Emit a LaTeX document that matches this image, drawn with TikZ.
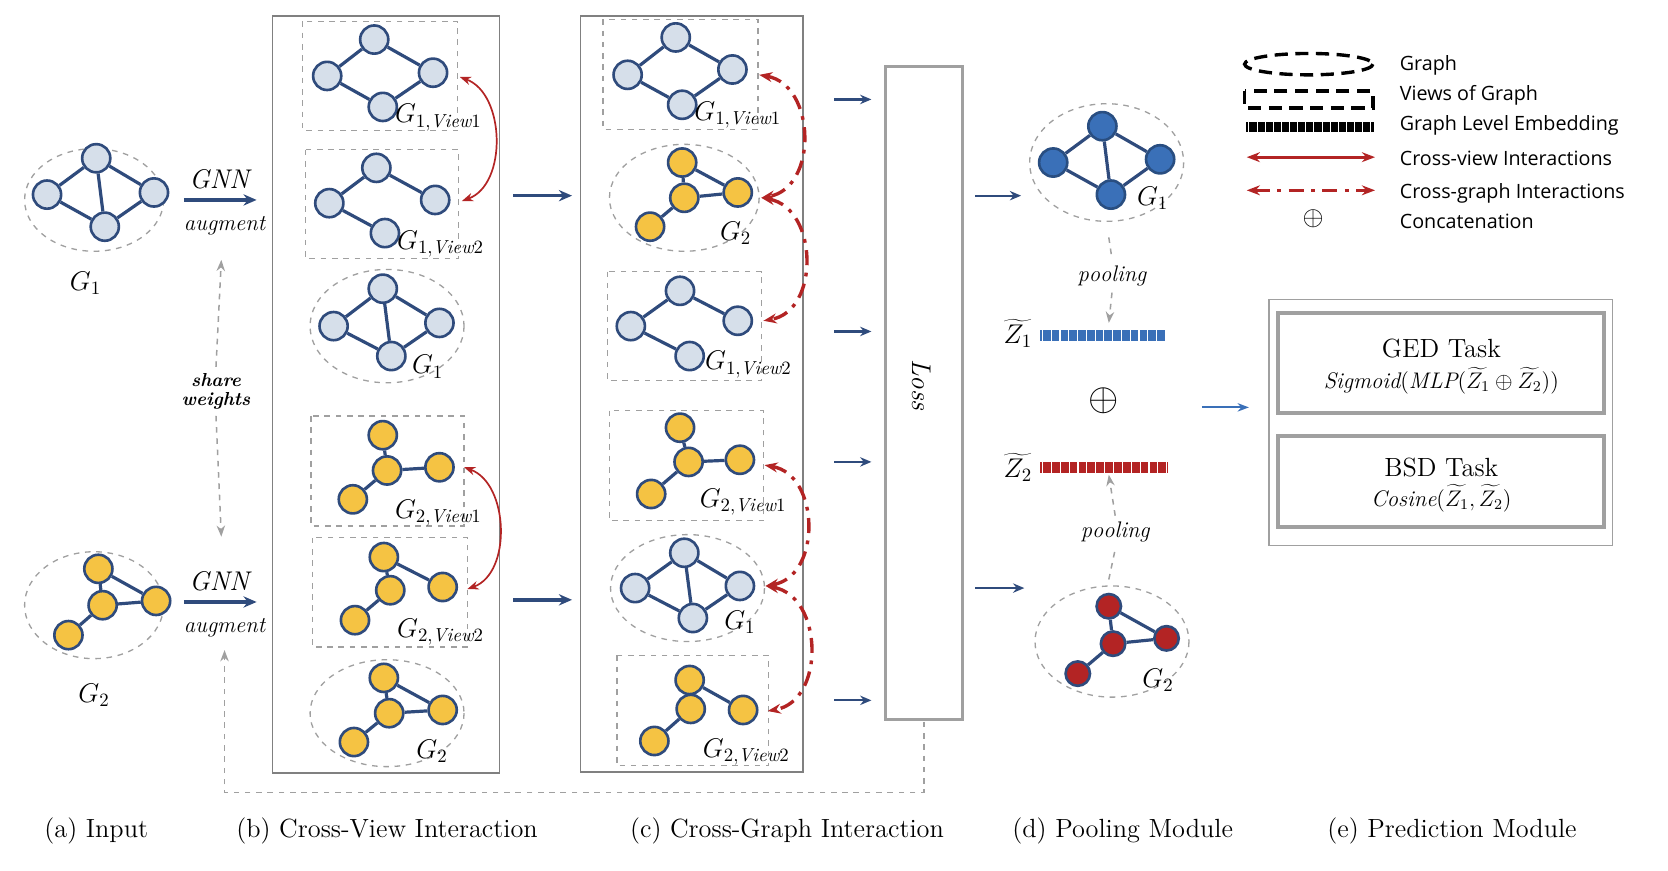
\documentclass[tikz,border=0pt]{standalone}
\usepackage{fontspec}
\newfontfamily\legf{Open Sans}
\usetikzlibrary{arrows.meta}
\definecolor{nb}{HTML}{2F4B7C}
\definecolor{lb}{HTML}{D6DFEA}
\definecolor{yl}{HTML}{F5C343}
\definecolor{mb}{HTML}{3A70B8}
\definecolor{rd}{HTML}{B32424}
\definecolor{gr}{HTML}{A0A0A0}
\tikzset{
 vx/.style={circle,draw=nb,line width=1.4pt,minimum size=15pt,inner sep=0pt},
 bl/.style={vx,fill=lb}, ye/.style={vx,fill=yl},
 pb/.style={vx,fill=mb,draw=mb!70!black}, pr/.style={vx,fill=rd,draw=nb,minimum size=13pt},
 ed/.style={draw=nb,line width=1.7pt},
 gell/.style={draw=gr,dashed,line width=0.7pt},
 vbox/.style={draw=gr,dashed,line width=0.7pt},
 frame/.style={draw=gr!80!black,line width=0.8pt},
 ar/.style={draw=nb,line width=1.8pt,-{Stealth[length=7pt,width=6pt]}},
 sar/.style={draw=nb,line width=1.2pt,-{Stealth[length=6pt,width=5pt]}},
 cv/.style={draw=rd,line width=0.9pt,{Stealth[length=6pt]}-{Stealth[length=6pt]}},
 cg/.style={draw=rd,line width=1.8pt,dash pattern=on 8pt off 4pt on 2pt off 4pt,{Stealth[length=7pt]}-{Stealth[length=7pt]}},
 lab/.style={font=\Large},
 captxt/.style={font=\fontsize{14}{16}\selectfont},
 leg/.style={font=\legf\fontsize{10.5}{12}\selectfont,anchor=west},
}
\newcommand\gfour[6]{\node[#2] (#1a) at #3 {};\node[#2] (#1b) at #4 {};\node[#2] (#1c) at #5 {};\node[#2] (#1d) at #6 {};}
\begin{document}
\begin{tikzpicture}[x=0.02cm,y=-0.02cm]
\useasboundingbox (0,0) rectangle (1560,814);
% ---------- (a) input
\draw[gell] (88,187) ellipse [x radius=65,y radius=48];
\gfour{ia}{bl}{(90,148)}{(44,182)}{(144,180)}{(98,212)}
\draw[ed] (iaa)--(iab)--(iad)--(iac)--(iaa)--(iad);
\node[lab] (lia) at (80,265) {$G_1$};
\draw[gell] (88,566) ellipse [x radius=65,y radius=50];
\gfour{ib}{ye}{(92,532)}{(96,566)}{(146,562)}{(64,594)}
\draw[ed] (iba)--(ibb)--(ibc)--(iba) (ibb)--(ibd);
\node[lab] (lib) at (88,650) {$G_2$};
\coordinate (ga1) at (172,187); \coordinate (ga2) at (240,187);
\draw[ar] (ga1)--(ga2);
\node[lab] at (205,168) {$\mathit{GNN}$};
\node[font=\large] at (210,211) {$\mathit{augment}$};
\coordinate (gb1) at (172,563); \coordinate (gb2) at (240,563);
\draw[ar] (gb1)--(gb2);
\node[lab] at (205,544) {$\mathit{GNN}$};
\node[font=\large] at (210,587) {$\mathit{augment}$};
\node[font=\bfseries\itshape,align=center] (sw) at (202,366) {share\\[-2pt]weights};
\draw[draw=gr,dashed,line width=0.8pt,-{Stealth[length=6pt]}] (sw.north) -- (207,243);
\draw[draw=gr,dashed,line width=0.8pt,-{Stealth[length=6pt]}] (sw.south) -- (207,502);
% ---------- (b)
\draw[frame] (255,15) rectangle (467,723);
\draw[vbox] (283,20) rectangle (428,122);
\gfour{b1}{bl}{(350,37)}{(306,71)}{(405,68)}{(358,100)}
\draw[ed] (b1a)--(b1b)--(b1d)--(b1c)--(b1a);
\node[lab] at (410,110) {$G_{1,\mathit{View}1}$};
\draw[vbox] (286,140) rectangle (429,242);
\gfour{b2}{bl}{(352,157)}{(308,190)}{(407,187)}{(360,218)}
\draw[ed] (b2c)--(b2a)--(b2b)--(b2d);
\node[lab] at (412,228) {$G_{1,\mathit{View}2}$};
\coordinate (c1) at (430,72); \coordinate (c2) at (432,188);
\draw[cv] (c1) to[out=-20,in=20] (c2);
\draw[gell] (362,305) ellipse [x radius=72,y radius=53];
\gfour{b3}{bl}{(358,270)}{(312,305)}{(411,302)}{(366,333)}
\draw[ed] (b3a)--(b3b)--(b3d)--(b3c)--(b3a)--(b3d);
\node[lab] at (400,343) {$G_1$};
\draw[vbox] (291,389) rectangle (434,492);
\gfour{b4}{ye}{(358,407)}{(362,440)}{(411,437)}{(330,467)}
\draw[ed] (b4a)--(b4b)--(b4c) (b4b)--(b4d);
\node[lab] at (410,480) {$G_{2,\mathit{View}1}$};
\draw[vbox] (292,503) rectangle (437,605);
\gfour{b5}{ye}{(359,521)}{(365,552)}{(414,549)}{(332,580)}
\draw[ed] (b5c)--(b5a)--(b5b)--(b5d);
\node[lab] at (412,591) {$G_{2,\mathit{View}2}$};
\coordinate (c3) at (434,437); \coordinate (c4) at (437,551);
\draw[cv] (c3) to[out=-20,in=20] (c4);
\draw[gell] (362,667) ellipse [x radius=72,y radius=50];
\gfour{b6}{ye}{(359,634)}{(364,667)}{(414,664)}{(331,694)}
\draw[ed] (b6a)--(b6b)--(b6c)--(b6a) (b6b)--(b6d);
\node[lab] at (404,703) {$G_2$};
\coordinate (bc1) at (480,183); \coordinate (bc2) at (535,183);
\coordinate (bc3) at (480,561); \coordinate (bc4) at (535,561);
\draw[ar] (bc1)--(bc2); \draw[ar] (bc3)--(bc4);
% ---------- (c)
\draw[frame] (543,15) rectangle (751,722);
\draw[vbox] (564,18) rectangle (709,121);
\gfour{k1}{bl}{(632,35)}{(587,70)}{(685,65)}{(638,98)}
\draw[ed] (k1a)--(k1b)--(k1d)--(k1c)--(k1a);
\node[lab] at (690,108) {$G_{1,\mathit{View}1}$};
\draw[gell] (640,185) ellipse [x radius=70,y radius=50];
\gfour{k2}{ye}{(638,152)}{(640,185)}{(690,180)}{(608,212)}
\draw[ed] (k2a)--(k2b)--(k2c)--(k2a) (k2b)--(k2d);
\node[lab] at (688,218) {$G_2$};
\draw[vbox] (568,254) rectangle (712,356);
\gfour{k3}{bl}{(636,272)}{(590,305)}{(690,300)}{(645,333)}
\draw[ed] (k3c)--(k3a)--(k3b)--(k3d);
\node[lab] at (700,341) {$G_{1,\mathit{View}2}$};
\draw[vbox] (570,384) rectangle (714,487);
\gfour{k4}{ye}{(636,400)}{(644,432)}{(692,430)}{(609,462)}
\draw[ed] (k4a)--(k4b)--(k4c) (k4b)--(k4d);
\node[lab] at (695,470) {$G_{2,\mathit{View}1}$};
\draw[gell] (643,550) ellipse [x radius=72,y radius=50];
\gfour{k5}{bl}{(640,517)}{(594,550)}{(692,548)}{(648,578)}
\draw[ed] (k5a)--(k5b)--(k5d)--(k5c)--(k5a)--(k5d);
\node[lab] at (692,582) {$G_1$};
\draw[vbox] (577,613) rectangle (719,716);
\gfour{k6}{ye}{(645,636)}{(646,663)}{(695,664)}{(612,693)}
\draw[ed] (k6c)--(k6a)--(k6b)--(k6d);
\node[lab] at (698,703) {$G_{2,\mathit{View}2}$};
\coordinate (d1) at (710,70); \coordinate (d2) at (712,185); \coordinate (d3) at (714,300);
\coordinate (d4) at (715,435); \coordinate (d5) at (716,548); \coordinate (d6) at (718,665);
\draw[cg] (d1) to[out=-10,in=10,looseness=1.2] (d2);
\draw[cg] (d2) to[out=-10,in=10,looseness=1.2] (d3);
\draw[cg] (d4) to[out=-10,in=10,looseness=1.2] (d5);
\draw[cg] (d5) to[out=-10,in=10,looseness=1.2] (d6);
% ---------- loss
\draw[draw=gr,line width=1.8pt] (828,62) rectangle (900,673);
\node[font=\Large,rotate=-90] (loss) at (862,360) {$\mathit{Loss}$};
\foreach \yy/\n in {93/a,310/b,432/c,655/d}{
 \coordinate (la\n) at (780,\yy); \coordinate (lb\n) at (815,\yy);
 \draw[sar] (la\n)--(lb\n);}
% feedback
\coordinate (f1) at (864,675); \coordinate (f2) at (864,741); \coordinate (f3) at (210,741); \coordinate (f4) at (210,608);
\draw[draw=gr,dashed,line width=0.8pt,-{Stealth[length=6pt]}] (f1)--(f2)--(f3)--(f4);
% ---------- (d)
\coordinate (p1) at (912,183); \coordinate (p2) at (955,183);
\draw[sar] (p1)--(p2);
\draw[gell] (1035,152) ellipse [x radius=72,y radius=55];
\gfour{q1}{pb}{(1031,118)}{(985,152)}{(1085,149)}{(1039,182)}
\draw[ed] (q1a)--(q1b)--(q1d)--(q1c)--(q1a)--(q1d);
\node[lab] at (1078,185) {$G_1$};
\node[font=\large] (pool1) at (1040,258) {$\mathit{pooling}$};
\coordinate (pp1) at (1037,222); \coordinate (pp2) at (1037,302);
\draw[draw=gr,dashed,line width=0.8pt] (pp1)--(pool1.north);
\draw[draw=gr,dashed,line width=0.8pt,-{Stealth[length=6pt]}] (pool1.south)--(pp2);
\draw[fill=mb,draw=none] (973,309) rectangle (1090,319);
\foreach \i in {0,...,14}{\draw[white,line width=0.6pt] (975+\i*8.2,309)--(975+\i*8.2,319);}
\node[lab] at (952,312) {$\widetilde{Z_1}$};
\node[font=\huge] (oplus) at (1032,375) {$\oplus$};
\draw[fill=rd,draw=none] (973,432) rectangle (1092,442);
\foreach \i in {0,...,14}{\draw[white,line width=0.6pt] (975+\i*8.3,432)--(975+\i*8.3,442);}
\node[lab] at (952,437) {$\widetilde{Z_2}$};
\node[font=\large] (pool2) at (1043,498) {$\mathit{pooling}$};
\coordinate (pq1) at (1037,542); \coordinate (pq2) at (1037,444);
\draw[draw=gr,dashed,line width=0.8pt] (pq1)--(pool2.south);
\draw[draw=gr,dashed,line width=0.8pt,-{Stealth[length=6pt]}] (pool2.north)--(pq2);
\coordinate (p3) at (912,550); \coordinate (p4) at (958,550);
\draw[sar] (p3)--(p4);
\draw[gell] (1040,600) ellipse [x radius=72,y radius=52];
\gfour{q2}{pr}{(1037,567)}{(1041,602)}{(1091,597)}{(1008,630)}
\draw[ed] (q2a)--(q2b)--(q2c)--(q2a) (q2b)--(q2d);
\node[lab] at (1083,636) {$G_2$};
% ---------- (e)
\draw[draw=gr,line width=0.8pt] (1187,280) rectangle (1508,510);
\draw[draw=gr,line width=2pt] (1195,293) rectangle (1500,386);
\draw[draw=gr,line width=2pt] (1195,408) rectangle (1500,493);
\node[captxt] at (1348,326) {GED Task};
\node[font=\large] at (1348,356) {$\mathit{Sigmoid}(\mathit{MLP}(\widetilde{Z_1}\oplus\widetilde{Z_2}))$};
\node[captxt] at (1348,437) {BSD Task};
\node[font=\large] at (1348,466) {$\mathit{Cosine}(\widetilde{Z_1},\widetilde{Z_2})$};
\coordinate (e1) at (1124,381); \coordinate (e2) at (1168,381);
\draw[draw=mb,line width=1pt,-{Stealth[length=6pt]}] (e1)--(e2);
% ---------- legend
\draw[line width=1.8pt,dash pattern=on 7pt off 4pt] (1224,60) ellipse [x radius=60,y radius=10];
\node[leg] at (1303,61) {Graph};
\draw[line width=1.8pt,dash pattern=on 7pt off 4pt] (1164,85) rectangle (1284,101);
\node[leg] at (1303,89) {Views of Graph};
\draw[fill=black] (1166,114) rectangle (1284,123);
\foreach \i in {0,...,15}{\draw[white,line width=0.5pt] (1168+\i*7.6,114)--(1168+\i*7.6,123);}
\node[leg] at (1303,117) {Graph Level Embedding};
\coordinate (lg1) at (1166,147); \coordinate (lg2) at (1286,147);
\draw[draw=rd,line width=1.6pt,{Stealth[length=7pt]}-{Stealth[length=7pt]}] (lg1)--(lg2);
\node[leg] at (1303,148) {Cross-view Interactions};
\coordinate (lg3) at (1166,178); \coordinate (lg4) at (1286,178);
\draw[cg] (lg3)--(lg4);
\node[leg] at (1303,181) {Cross-graph Interactions};
\node[font=\Large] at (1228,205) {$\oplus$};
\node[leg] at (1303,207) {Concatenation};
% ---------- captions
\node[captxt] at (90,777) {(a) Input};
\node[captxt] at (362,777) {(b) Cross-View Interaction};
\node[captxt] at (736,777) {(c) Cross-Graph Interaction};
\node[captxt] at (1050,777) {(d) Pooling Module};
\node[captxt] at (1358,777) {(e) Prediction Module};
\end{tikzpicture}
\end{document}
